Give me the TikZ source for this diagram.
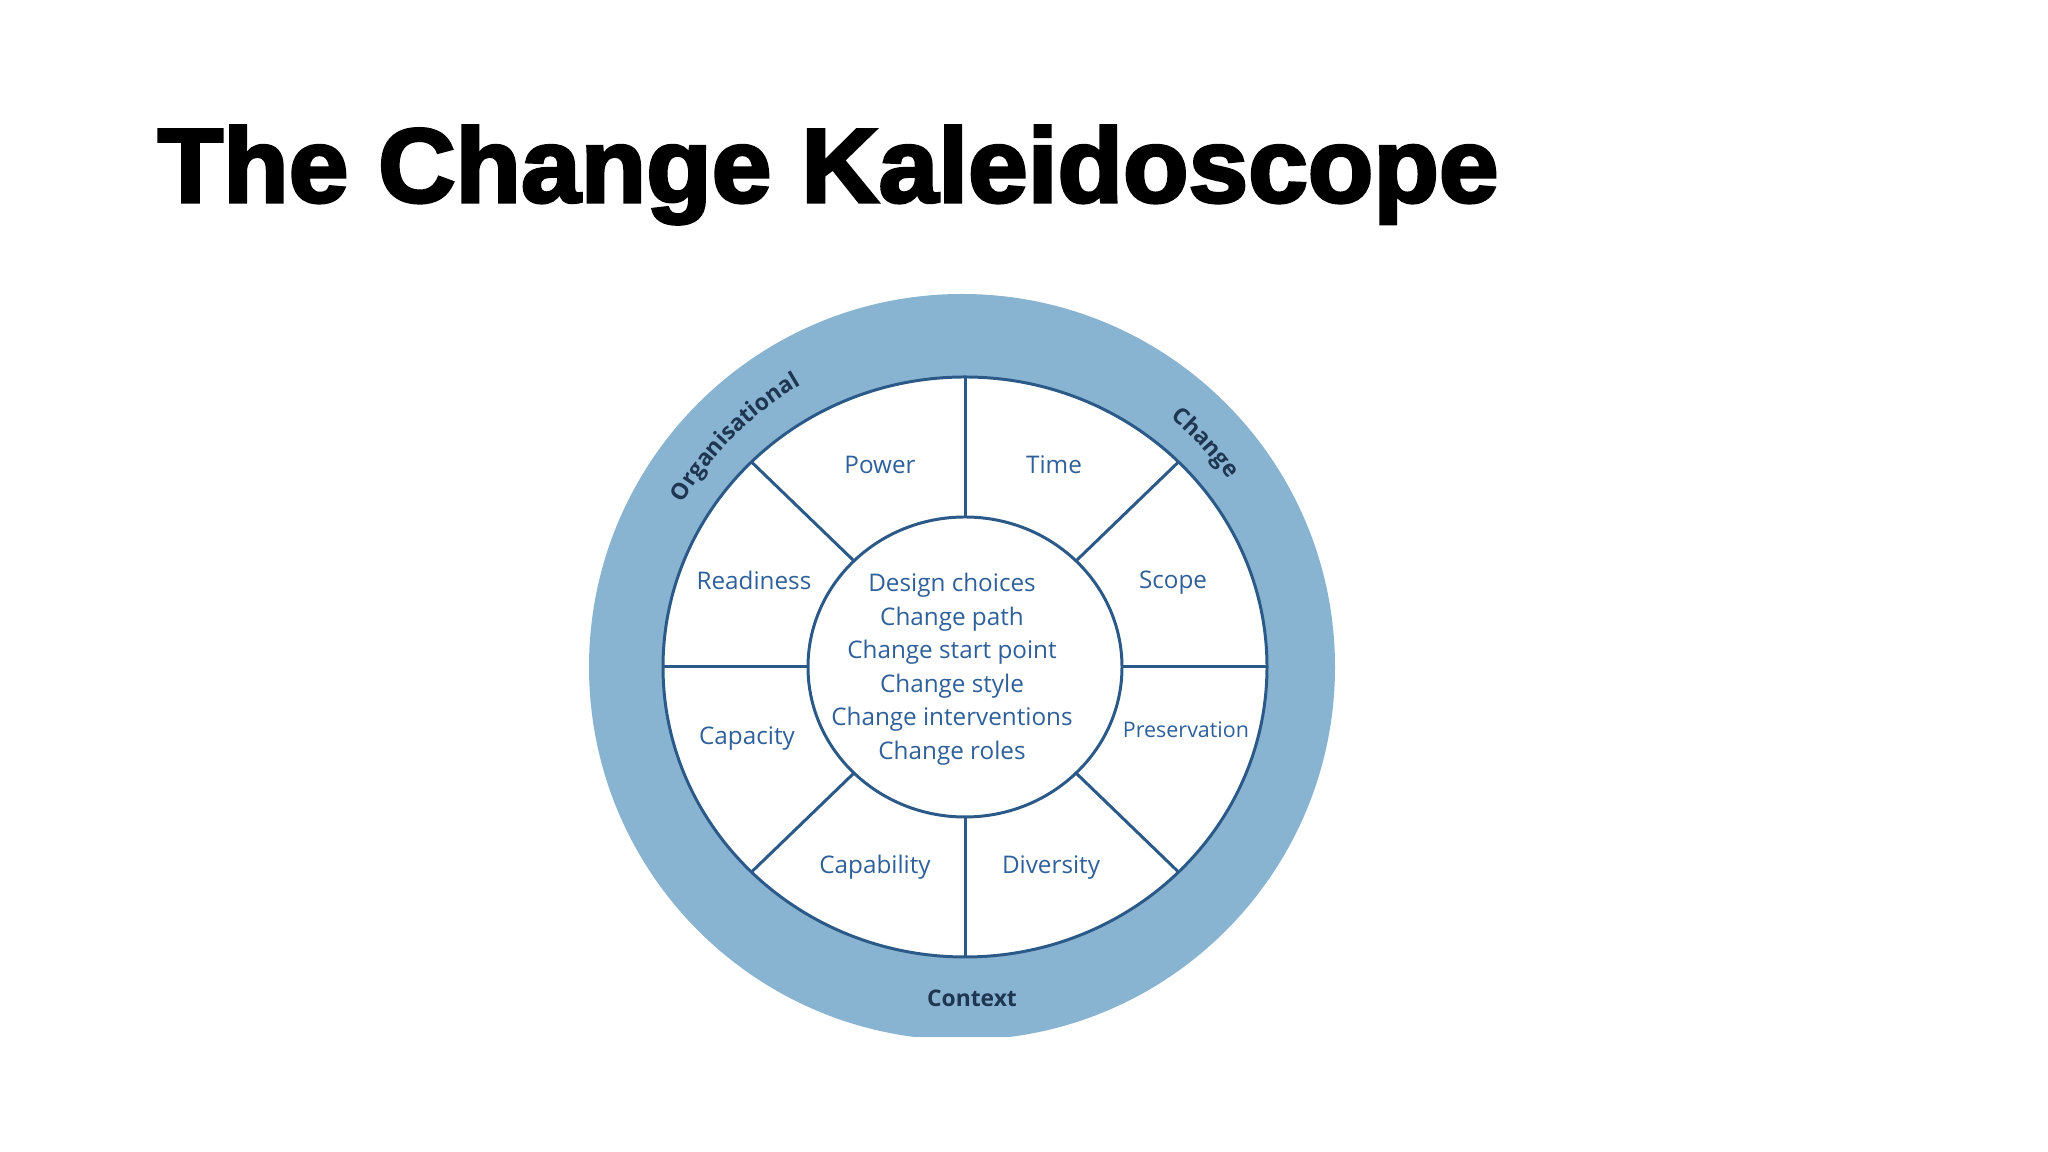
\documentclass[tikz,border=0pt]{standalone}
\usepackage{fontspec}
\usetikzlibrary{decorations.text}
\newfontfamily\titlefont[BoldFeatures={FakeBold=3,FakeStretch=1.02}]{Liberation Sans}
\newfontfamily\wheelfont{Open Sans}
\definecolor{ringblue}{HTML}{89B4D1}
\definecolor{lineblue}{HTML}{2B5A88}
\definecolor{labelblue}{HTML}{30609A}
\definecolor{ringtext}{HTML}{1E3652}
\newcommand\ringfont{\wheelfont\bfseries\fontsize{6.5}{8}\selectfont}

\begin{document}
\begin{tikzpicture}[x=0.01cm,y=0.01cm,
  lbl/.style={font=\wheelfont\fontsize{6.9}{8}\selectfont, text=labelblue, anchor=base, inner sep=0pt},
  ringlbl/.style={font=\ringfont, text=ringtext, anchor=base, inner sep=0pt},
  divider/.style={draw=lineblue, line width=0.85pt}]
\useasboundingbox (0,0) rectangle (2048,1152);
\node[anchor=base west, inner sep=0pt, font=\titlefont\bfseries\fontsize{29.9}{36}\selectfont] (title) at (157,950) {The Change Kaleidoscope};
\begin{scope}
\clip (500,115) rectangle (1450,900);
\fill[ringblue] (962,485) circle (373);
\end{scope}
\filldraw[fill=white, divider] (965,485) ellipse (302 and 290);
\draw[divider] (965,485) ellipse (157 and 150);
\foreach \a in {0,45,...,315}
  \draw[divider] ({965+157*cos(\a)},{485+150*sin(\a)}) -- ({965+302*cos(\a)},{485+290*sin(\a)});
\node[lbl] (power) at (880,678) {Power};
\node[lbl] (time) at (1054,678) {Time};
\node[lbl] (scope) at (1173,563) {Scope};
\node[lbl, font=\wheelfont\fontsize{6.1}{7}\selectfont] (preservation) at (1186,414) {Preservation};
\node[lbl] (diversity) at (1051,278) {Diversity};
\node[lbl] (capability) at (875,278) {Capability};
\node[lbl] (capacity) at (747,407) {Capacity};
\node[lbl] (readiness) at (754,562) {Readiness};
\foreach \t [count=\i] in {Design choices, Change path, Change start point, Change style, Change interventions, Change roles}
  \node[lbl] (core\i) at (952,{560-33.5*(\i-1)}) {\t};
\path[decorate, decoration={text along path, text align=center, text={|\ringfont\color{ringtext}|Organisational}}] (965,485) ++(169:326) arc (169:101:326);
\path[decorate, decoration={text along path, text align=center, text={|\ringfont\color{ringtext}|Change}}] (965,485) ++(77:323) arc (77:9:323);
\node[ringlbl] (context) at (972,145) {Context};
\end{tikzpicture}
\end{document}
